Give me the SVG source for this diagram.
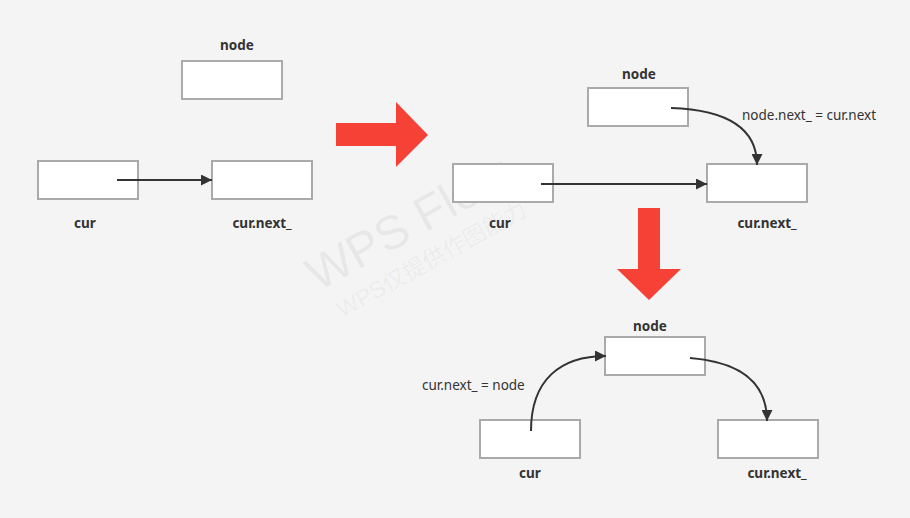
<svg xmlns="http://www.w3.org/2000/svg" width="910" height="518" viewBox="0 0 910 518">
<defs>
<style>
.box{fill:#fff;stroke:#aaa;stroke-width:2}
.lbl{font-family:"Noto Sans","Liberation Sans",sans-serif;font-size:13.5px;font-weight:bold;fill:#333;text-anchor:middle}
.note{font-family:"Noto Sans","Liberation Sans",sans-serif;font-size:13.5px;fill:#333}
.edge{fill:none;stroke:#333;stroke-width:2;marker-end:url(#ah)}
.big{fill:#f64236}
.wm{font-family:"Liberation Sans","Noto Sans CJK SC",sans-serif;fill:#000;fill-opacity:0.05}
</style>
<marker id="ah" viewBox="0 0 10 10" refX="10" refY="5" markerWidth="5.5" markerHeight="5.5" orient="auto" markerUnits="strokeWidth">
<path d="M0,0 L10,5 L0,10 z" fill="#333"/>
</marker>
</defs>
<rect width="910" height="518" fill="#f4f4f4"/>

<g id="watermark">
<text class="wm" font-size="48" transform="translate(318,292) rotate(-29)">WPS Flow</text>
<text class="wm" font-size="23" transform="translate(342,318) rotate(-29)">WPS仅提供作图能力</text>
</g>

<g id="big-arrows">
<polygon id="arrow-right" class="big" points="336,123 396,123 396,102 428,135 396,167 396,146 336,146"/>
<polygon id="arrow-down" class="big" points="638,208 660,208 660,269 681,269 649,300 617,269 638,269"/>
</g>

<g id="n1-node"><rect class="box" x="182" y="61" width="100" height="38"/><text class="lbl" x="237" y="50">node</text></g>
<g id="n1-cur"><rect class="box" x="38" y="161" width="100" height="38"/><text class="lbl" x="85" y="228">cur</text></g>
<g id="n1-next"><rect class="box" x="212" y="161" width="100" height="38"/><text class="lbl" x="262" y="228">cur.next_</text></g>

<g id="n2-node"><rect class="box" x="588" y="88" width="100" height="38"/><text class="lbl" x="639" y="79">node</text></g>
<g id="n2-cur"><rect class="box" x="453" y="164" width="100" height="38"/><text class="lbl" x="500" y="228">cur</text></g>
<g id="n2-next"><rect class="box" x="707" y="164" width="100" height="38"/><text class="lbl" x="767" y="228">cur.next_</text></g>

<g id="n3-node"><rect class="box" x="605" y="337" width="100" height="38"/><text class="lbl" x="650" y="331">node</text></g>
<g id="n3-cur"><rect class="box" x="480" y="420" width="100" height="38"/><text class="lbl" x="530" y="478">cur</text></g>
<g id="n3-next"><rect class="box" x="718" y="420" width="100" height="38"/><text class="lbl" x="777" y="478">cur.next_</text></g>

<g id="connectors">
<path class="edge" d="M117,180 L212,180"/>
<path class="edge" d="M541,184 L707,184"/>
<path class="edge" d="M671,108 C730,110 757,130 757,165"/>
<path class="edge" d="M531,431 C531,380 560,356 606,356"/>
<path class="edge" d="M690,358 C740,362 767,382 767,421"/>
<text class="note" x="742" y="120">node.next_ = cur.next</text>
<text class="note" x="422" y="390">cur.next_ = node</text>
</g>
</svg>
